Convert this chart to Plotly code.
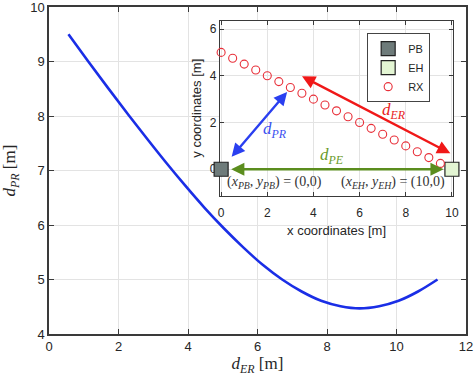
import plotly.graph_objects as go

# ---- data ----
# main curve: d_ER (x) vs d_PR (y)
d_er = [11.18, 10.62, 10.06, 9.50, 8.94, 8.39, 7.83, 7.27, 6.71, 6.15,
        5.59, 5.03, 4.47, 3.91, 3.35, 2.80, 2.24, 1.68, 1.12, 0.56]
d_pr = [5.00, 4.78, 4.61, 4.51, 4.47, 4.51, 4.61, 4.78, 5.00, 5.27,
        5.59, 5.94, 6.32, 6.73, 7.16, 7.60, 8.06, 8.53, 9.01, 9.50]

# inset: receiver positions
rx_x = [0, 0.5, 1, 1.5, 2, 2.5, 3, 3.5, 4, 4.5, 5, 5.5, 6, 6.5, 7, 7.5, 8, 8.5, 9, 9.5]
rx_y = [5, 4.75, 4.5, 4.25, 4, 3.75, 3.5, 3.25, 3, 2.75, 2.5, 2.25, 2, 1.75, 1.5, 1.25, 1, 0.75, 0.5, 0.25]
pb_xy = [0, 0]
eh_xy = [10, 0]

main_xticks = [0, 2, 4, 6, 8, 10, 12]
main_yticks = [4, 5, 6, 7, 8, 9, 10]
inset_xticks = [0, 2, 4, 6, 8, 10]
inset_yticks = [0, 2, 4, 6]

AX = "#3a3a3a"
GRID = "#e3e3e3"
SANS = "Liberation Sans, Arial, sans-serif"
TICKF = dict(family=SANS, size=13, color="#262626")
SERIF = "Liberation Serif, Times New Roman, serif"

fig = go.Figure()

fig.add_trace(go.Scatter(x=d_er, y=d_pr, mode="lines", line=dict(color="#1a2ee6", width=2.6, shape="spline"),
                         showlegend=False, xaxis="x", yaxis="y"))

fig.add_trace(go.Scatter(x=[pb_xy[0]], y=[pb_xy[1]], mode="markers", name="PB",
                         marker=dict(symbol="square", size=14, color="#6e7b7a", line=dict(color="#222", width=1.2)),
                         xaxis="x2", yaxis="y2", cliponaxis=False))
fig.add_trace(go.Scatter(x=[eh_xy[0]], y=[eh_xy[1]], mode="markers", name="EH",
                         marker=dict(symbol="square", size=14, color="#e3f5d3", line=dict(color="#222", width=1.2)),
                         xaxis="x2", yaxis="y2", cliponaxis=False))
fig.add_trace(go.Scatter(x=rx_x, y=rx_y, mode="markers", name="RX",
                         marker=dict(symbol="circle-open", size=8, color="#e8303a", line=dict(width=1.1)),
                         xaxis="x2", yaxis="y2", cliponaxis=False))

xr2 = [-0.05, 10.05]
yr2 = [-1.13, 6.355]

fig.add_shape(type="rect", xref="x2", yref="y2", x0=xr2[0], x1=xr2[1], y0=yr2[0], y1=yr2[1],
              fillcolor="white", line=dict(width=0), layer="below")

def arrow(x0, y0, x1, y1, color):
    fig.add_annotation(x=x1, y=y1, ax=x0, ay=y0, xref="x2", yref="y2", axref="x2", ayref="y2",
                       text="", showarrow=True, arrowhead=2, startarrowhead=2, arrowside="end+start",
                       arrowsize=1.1, startarrowsize=1.1, arrowwidth=2.4, arrowcolor=color, standoff=0, startstandoff=0)

arrow(0.40, 0.47, 2.86, 3.31, "#2a3ff0")
arrow(3.44, 4.01, 9.93, 0.68, "#f01818")
arrow(0.37, 0.0, 9.64, 0.0, "#5b8d1e")

def label(x, y, txt, color, size=17):
    fig.add_annotation(x=x, y=y, xref="x2", yref="y2", text=txt, showarrow=False,
                       font=dict(family=SERIF, size=size, color=color))

label(2.35, 1.67, "<i>d</i><sub><i>PR</i></sub>", "#3a4ff0")
label(7.5, 2.5, "<i>d</i><sub><i>ER</i></sub>", "#e82020")
label(4.8, 0.55, "<i>d</i><sub><i>PE</i></sub>", "#6a9a2a")
label(2.31, -0.57, "(<i>x</i><sub><i>PB</i></sub>, <i>y</i><sub><i>PB</i></sub>) = (0,0)", "#333", 14)
label(7.44, -0.57, "(<i>x</i><sub><i>EH</i></sub>, <i>y</i><sub><i>EH</i></sub>) = (10,0)", "#333", 14)

common = dict(showline=True, linecolor=AX, linewidth=1.5, mirror="ticks", ticks="inside", ticklen=5,
              tickcolor=AX, gridcolor=GRID, gridwidth=1, zeroline=False, tickfont=TICKF, automargin=False,
              ticklabeloverflow="allow")
inset = {**common, "tickfont": dict(TICKF, size=12), "linewidth": 1.3, "ticklen": 4, "layer": "below traces"}

fig.update_layout(
    width=474, height=382,
    margin=dict(l=49, r=8, t=7, b=48, autoexpand=False),
    plot_bgcolor="white", paper_bgcolor="white",
    xaxis=dict(range=[0, 12], tickvals=main_xticks, domain=[0, 1],
               title=dict(text="<i>d</i><sub><i>ER</i></sub> [m]", font=dict(family=SERIF, size=17, color="#262626"), standoff=4),
               **common),
    yaxis=dict(range=[4, 10], tickvals=main_yticks, domain=[0, 1],
               title=dict(text="<i>d</i><sub><i>PR</i></sub> [m]", font=dict(family=SERIF, size=17, color="#262626"), standoff=10),
               **common),
    xaxis2=dict(range=xr2, tickvals=inset_xticks, domain=[0.410, 0.969], anchor="y2",
                title=dict(text="x coordinates [m]", font=dict(family=SANS, size=13, color="#262626"), standoff=6),
                ticklabelstandoff=6, **inset),
    yaxis2=dict(range=yr2, tickvals=inset_yticks, domain=[0.423, 0.958], anchor="x2",
                title=dict(text="y coordinates [m]", font=dict(family=SANS, size=13, color="#262626"), standoff=5),
                **inset),
    legend=dict(x=0.763, y=0.92, xanchor="left", yanchor="top", bgcolor="white", bordercolor="#444", borderwidth=1,
                font=dict(family=SANS, size=11, color="#262626"),
                tracegroupgap=0, itemwidth=30),
)

fig.write_html("out.html", config={"displayModeBar": False},
               post_script="document.body.style.margin='0';document.body.style.padding='0';")
